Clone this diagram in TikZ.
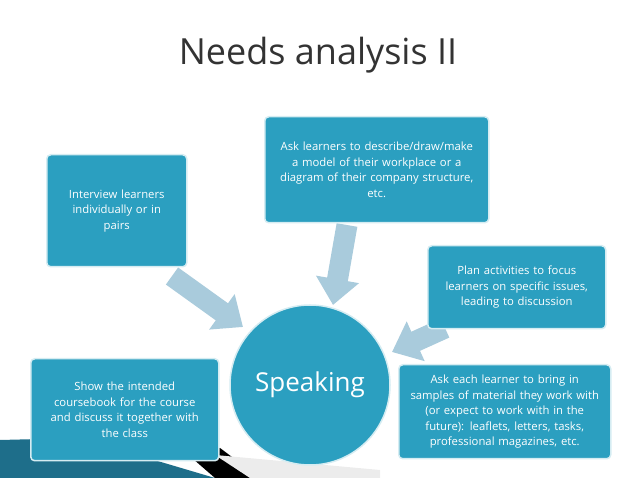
\documentclass[tikz,border=0pt]{standalone}
\usepackage{fontspec}
\setmainfont{Open Sans}
\usetikzlibrary{arrows.meta}
\definecolor{boxc}{HTML}{2B9FC0}
\definecolor{arr}{HTML}{A9CBDC}
\definecolor{dteal}{HTML}{1E6E8A}
\begin{document}
\begin{tikzpicture}[x=1pt,y=-1pt,
  box/.style={draw=white!80!boxc,line width=1.5pt,fill=boxc,rounded corners=4pt,text=white,align=center,font=\fontsize{11.3}{15.5}\selectfont,inner sep=3pt},
  blk/.style={draw=arr,line width=21pt,-{Triangle[width=42pt,length=26pt]}}]
\useasboundingbox (0,0) rectangle (638,478);
% bottom decoration
\fill[dteal] (0,440) -- (80,438) -- (215,478) -- (0,478) -- cycle;
\fill[black] (185,452) -- (220,448) -- (260,478) -- (215,478) -- cycle;
\fill[gray!15] (215,455) -- (380,470) -- (380,478) -- (250,478) -- cycle;
\node[text=black!80,font=\fontsize{36}{40}\selectfont] (title) at (318,55) {Needs analysis II};
% arrows
\coordinate (a1s) at (172,276); \coordinate (a1e) at (243,327);
\coordinate (a2s) at (347,225); \coordinate (a2e) at (333,305);
\coordinate (a3s) at (445,328); \coordinate (a3e) at (392,352);
\draw[blk] (a1s) -- (a1e);
\draw[blk] (a2s) -- (a2e);
\draw[blk] (a3s) -- (a3e);
\node[box,minimum width=140pt,minimum height=112pt,anchor=north west,text width=130pt] (b1) at (46,154) {Interview learners\\individually or in\\pairs\\[24pt]};
\node[box,minimum width=222pt,minimum height=106pt,anchor=north west,text width=218pt] (b2) at (264,116) {Ask learners to describe/draw/make\\a model of their workplace or a\\diagram of their company structure,\\etc.\\[18pt]};
\node[box,minimum width=177pt,minimum height=83pt,anchor=north west,text width=172pt] (b3) at (427,245) {Plan activities to focus\\learners on specific issues,\\leading to discussion};
\node[box,minimum width=186pt,minimum height=102pt,anchor=north west,text width=182pt] (b4) at (30,358) {Show the intended\\coursebook for the course\\and discuss it together with\\the class\\[10pt]};
\node[box,minimum width=208pt,minimum height=94pt,anchor=north west,text width=206pt] (b5) at (398,364) {Ask each learner to bring in\\samples of material they work with\\(or expect to work with in the\\future): leaflets, letters, tasks,\\professional magazines, etc.};
\node[circle,draw=white!80!boxc,line width=1.5pt,fill=boxc,minimum size=160pt,text=white,font=\fontsize{26}{30}\selectfont] (sp) at (310,385) {Speaking};
\end{tikzpicture}
\end{document}
